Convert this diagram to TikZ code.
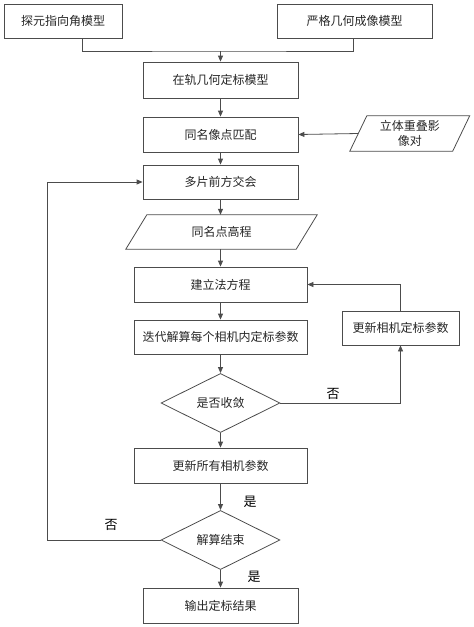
\documentclass[tikz,border=0pt]{standalone}
\usepackage{fontspec}
\setmainfont{Noto Sans CJK SC}
\usetikzlibrary{shapes.geometric,arrows.meta}
\begin{document}
\begin{tikzpicture}[x=1pt,y=-1pt,
  every node/.style={font=\fontsize{12}{15}\selectfont, text=black!85},
  box/.style={draw=black!70, line width=0.8pt, rectangle, inner sep=0pt},
  para/.style={rectangle, inner sep=0pt, align=center},
  dia/.style={draw=black!70, line width=0.8pt, diamond, inner sep=0pt, minimum width=119pt, minimum height=51pt},
  ln/.style={draw=black!70, line width=0.8pt},
  arr/.style={ln, -{Triangle[length=6pt,width=5pt]}},
  lbl/.style={font=\fontsize{13}{15}\selectfont, text=black}
]
\useasboundingbox (0,0) rectangle (474,627);
\node[box, minimum width=118pt, minimum height=34pt] (a) at (63,21) {探元指向角模型};
\node[box, minimum width=155pt, minimum height=34pt] (b) at (354.5,21) {严格几何成像模型};
\node[box, minimum width=155pt, minimum height=36pt] (c) at (220.5,80) {在轨几何定标模型};
\node[box, minimum width=155pt, minimum height=35pt] (d) at (220.5,134.5) {同名像点匹配};
\node[para, minimum width=102.5pt, minimum height=35pt] (p1) at (409.75,133.5) {立体重叠影\\像对};
\draw[ln] ([xshift=8.5pt]p1.north west) -- ([xshift=8.5pt]p1.north east) -- ([xshift=-8.5pt]p1.south east) -- ([xshift=-8.5pt]p1.south west) -- cycle;
\node[box, minimum width=155pt, minimum height=34pt] (e) at (220.5,182) {多片前方交会};
\node[para, minimum width=170pt, minimum height=34pt] (p2) at (221.5,232) {同名点高程};
\draw[ln] ([xshift=10.5pt]p2.north west) -- ([xshift=10.5pt]p2.north east) -- ([xshift=-10.5pt]p2.south east) -- ([xshift=-10.5pt]p2.south west) -- cycle;
\node[box, minimum width=173pt, minimum height=35pt] (f) at (220.5,284.5) {建立法方程};
\node[box, minimum width=173pt, minimum height=34pt] (g) at (220.5,337) {迭代解算每个相机内定标参数};
\node[box, minimum width=117pt, minimum height=34pt] (h) at (400.5,328) {更新相机定标参数};
\node[dia] (q1) at (220.5,403) {是否收敛};
\node[box, minimum width=173pt, minimum height=35pt] (i) at (220.5,465.5) {更新所有相机参数};
\node[dia, minimum height=52pt] (q2) at (220.5,540) {解算结束};
\node[box, minimum width=155pt, minimum height=35pt] (j) at (220.5,605.5) {输出定标结果};
\coordinate (m) at (220.5,51);
\coordinate (lp) at (47,540);
\draw[ln] ([xshift=19pt]a.south) |- (m) -| ([xshift=-1.5pt]b.south);
\draw[arr] (m) -- (c.north);
\draw[arr] (c) -- (d);
\draw[arr] (d) -- (e);
\draw[arr] (p1.west) -- (d.east);
\draw[arr] (e) -- ([xshift=-1pt]p2.north);
\draw[arr] ([xshift=-1pt]p2.south) -- (f.north);
\draw[arr] (f) -- (g);
\draw[arr] (g) -- (q1);
\draw[arr] (q1) -- (i);
\draw[arr] (q1.east) -| (h.south);
\draw[arr] (h.north) |- (f.east);
\draw[arr] (i) -- (q2);
\draw[arr] (q2) -- (j);
\draw[arr] (q2.west) -- (lp) |- (e.west);
\node[lbl] (n1) at (333,394) {否};
\node[lbl] (y1) at (250,502) {是};
\node[lbl] (y2) at (254,577) {是};
\node[lbl] (n2) at (111,525) {否};
\end{tikzpicture}
\end{document}
